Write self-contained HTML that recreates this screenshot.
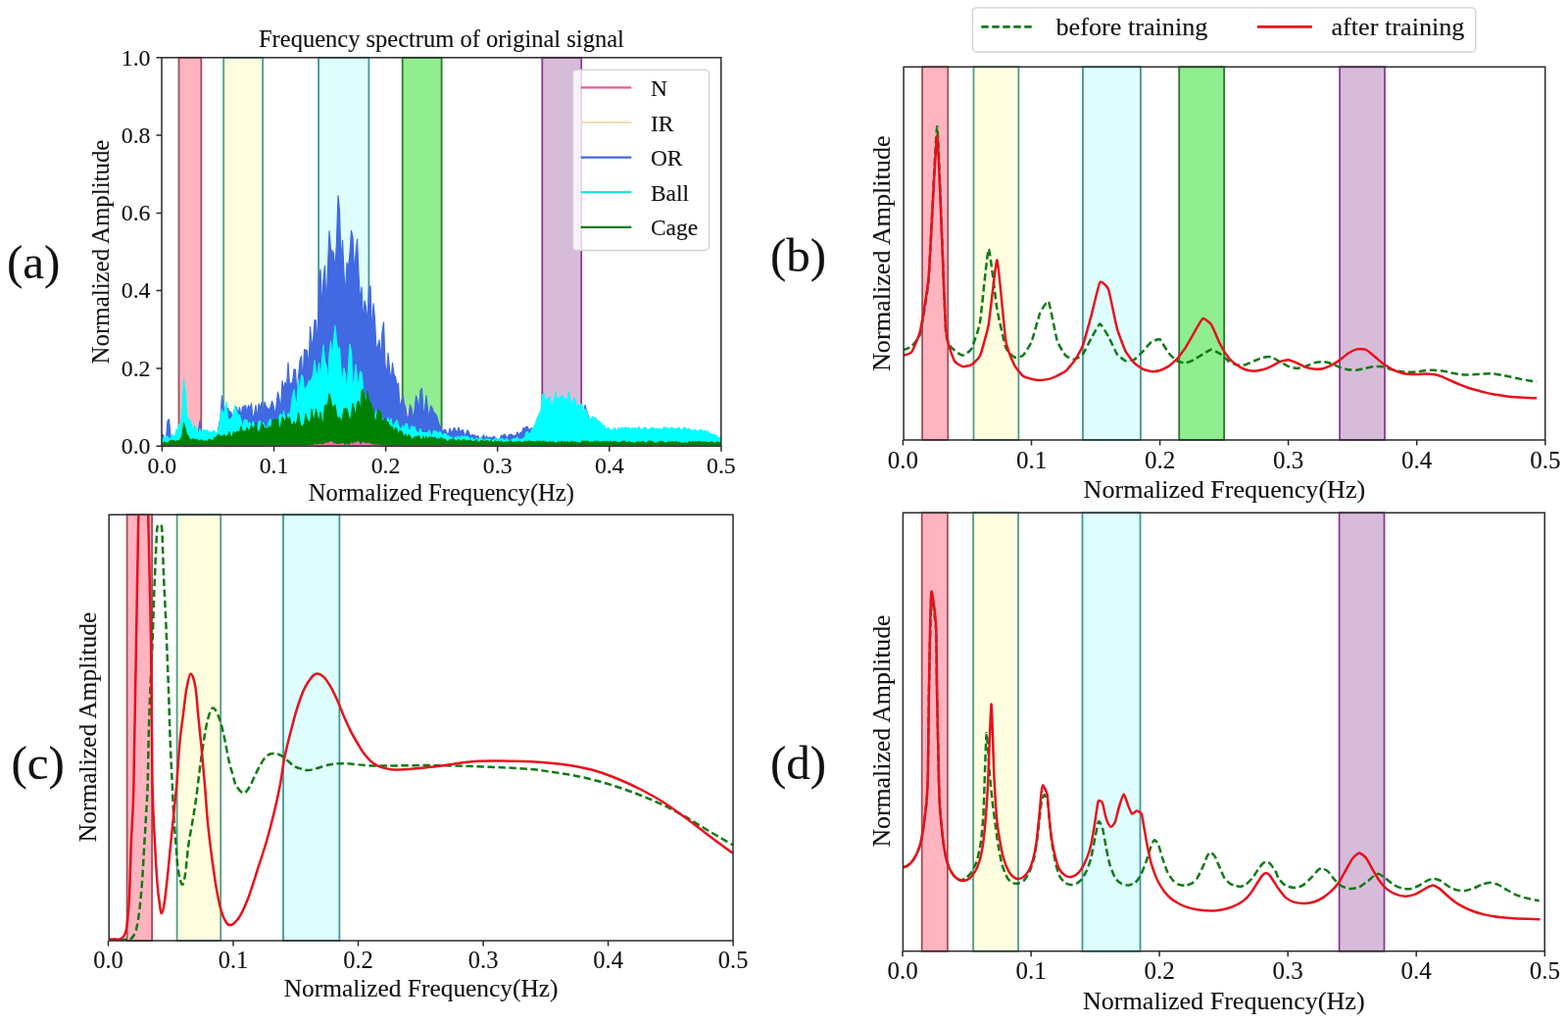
<!DOCTYPE html>
<html lang="en"><head><meta charset="utf-8"><title>Frequency spectrum before and after training</title>
<style>html,body{margin:0;padding:0;background:#fff}body{width:1600px;height:1044px;overflow:hidden}svg{display:block}text{font-family:'Liberation Serif', 'DejaVu Serif', serif;fill:#111;stroke:#111;stroke-width:0.12px}</style>
</head><body>
<svg width="1600" height="1044" viewBox="0 0 1600 1044" role="img" aria-label="Frequency spectra before and after training">
<rect width="1600" height="1044" fill="#fff"/>
<g id="plot-a">
<clipPath id="clip-a"><rect x="165" y="58.8" width="570.8" height="396.4"/></clipPath>
<rect x="165" y="58.8" width="570.8" height="396.4" fill="#fff"/>
<rect x="182.5" y="58.8" width="22.8" height="396.4" fill="#ffb4c0" stroke="#a0505c" stroke-width="1.8"/>
<rect x="228.2" y="58.8" width="39.9" height="396.4" fill="#ffffe0" stroke="#4f9c8c" stroke-width="1.8"/>
<rect x="325.1" y="58.8" width="51.3" height="396.4" fill="#dffefe" stroke="#3f979b" stroke-width="1.8"/>
<rect x="410.7" y="58.8" width="39.9" height="396.4" fill="#90ee90" stroke="#2c7a2c" stroke-width="1.8"/>
<rect x="553.3" y="58.8" width="39.9" height="396.4" fill="#d7bcd9" stroke="#8c3a94" stroke-width="1.8"/>
<g clip-path="url(#clip-a)"><path d="M165 455.2L165 455.2L166.5 455.2L168 455.2L169.5 455.2L171 455.2L172.5 455.2L174 455.2L175.5 455.2L177 455.2L178.5 455.2L180 455.2L181.5 455.2L183 455.2L184.5 455.2L186 455.2L187.5 455.2L189 455.2L190.5 455.2L192 455.2L193.5 455.2L195 455.2L196.5 455.2L198 455.2L199.5 455.2L201 455.2L202.5 455.2L204 455.2L205.5 455.2L207 455.2L208.5 455.2L210 455.2L211.5 455.2L213 455.2L214.5 455.2L216 455.2L217.5 455.2L219 455.2L220.5 455.2L222 455.2L223.5 455.2L225 455.2L226.5 455.2L228 455.2L229.5 455.2L231 455.2L232.5 455.2L234 455.2L235.5 455.2L237 455.2L238.5 455.2L240 455.2L241.5 455.2L243 455.2L244.5 455.2L246 455.2L247.5 455.2L249 455.2L250.5 455.2L252 455.2L253.5 455.2L255 455.2L256.5 455.2L258 455.2L259.5 455.2L261 455.2L262.5 455.2L264 455.2L265.5 455.2L267 455.2L268.5 455.2L270 455.2L271.5 455.2L273 455.2L274.5 455.2L276 455.2L277.5 455.2L279 455.2L280.5 455.2L282 455.2L283.5 455.2L285 455.2L286.5 455.2L288 455.2L289.5 455.2L291 455.2L292.5 455.2L294 455.2L295.5 455.2L297 455.2L298.5 455.2L300 455.2L301.5 455.2L303 455.2L304.5 455.2L306 455.2L307.5 455.2L309 455.2L310.5 455.2L312 455.2L313.5 455.2L315 455.2L316.5 455.2L318 455.2L319.5 455.2L321 455.2L322.5 455.2L324 455.2L325.5 455.2L327 455.2L328.5 455.2L330 455.2L331.5 455.2L333 455.2L334.5 455.2L336 455.2L337.5 455.2L339 455.2L340.5 455.2L342 455.2L343.5 455.2L345 455.2L346.5 455.2L348 455.2L349.5 455.2L351 455.2L352.5 455.2L354 455.2L355.5 455.2L357 455.2L358.5 455.2L360 455.2L361.5 455.2L363 455.2L364.5 455.2L366 455.2L367.5 455.2L369 455.2L370.5 455.2L372 455.2L373.5 455.2L375 455.2L376.5 455.2L378 455.2L379.5 455.2L381 455.2L382.5 452.3L384 445.1L385.5 438.9L387 432.6L388.5 423.8L390 427.4L391.5 411.3L393 420.2L394.5 409.5L396 395.2L397.5 395.7L399 411.1L400.5 379.1L402 395.1L403.5 400.2L405 426.3L406.5 405.5L408 419.7L409.5 406.9L411 417.3L412.5 409.3L414 417.9L415.5 415.9L417 429.6L418.5 424.2L420 425.8L421.5 428L423 439.5L424.5 436L426 439.8L427.5 445.4L429 443.5L430.5 443.7L432 446.9L433.5 446.8L435 449.4L436.5 444.8L438 444.1L439.5 447.4L441 445.9L442.5 445.8L444 445.8L445.5 449.6L447 445.5L448.5 446.9L450 446.4L451.5 448L453 446.8L454.5 445.8L456 446.8L457.5 446.3L459 450.8L460.5 449.9L462 448.2L463.5 446.9L465 449.6L466.5 446.8L468 447.2L469.5 450.8L471 448.2L472.5 449.8L474 450.8L475.5 450.4L477 449.3L478.5 450.1L480 450.1L481.5 451.1L483 448.6L484.5 449.1L486 447.8L487.5 448L489 450L490.5 446.3L492 451.4L493.5 449.2L495 449.9L496.5 449.2L498 450.9L499.5 447L501 449.5L502.5 451.4L504 448.3L505.5 451.1L507 448.8L508.5 449.9L510 448.7L511.5 446.8L513 447.5L514.5 449.6L516 447.7L517.5 448.6L519 450L520.5 451.2L522 449L523.5 449.2L525 447.3L526.5 447.3L528 449.1L529.5 450.3L531 447.8L532.5 452.1L534 451.6L535.5 449.5L537 449.3L538.5 451.5L540 449.3L541.5 448.2L543 450.5L544.5 450.3L546 451.3L547.5 451L549 448.1L550.5 450.7L552 448.3L553.5 448.5L555 449.9L556.5 451.4L558 448.4L559.5 450.5L561 450.8L562.5 451.2L564 448.6L565.5 450.6L567 451.5L568.5 450.8L570 452.2L571.5 450.3L573 451L574.5 451.6L576 449.8L577.5 449.7L579 452.7L580.5 450.9L582 451.9L583.5 449.6L585 450.1L586.5 452L588 452L589.5 452.4L591 449.7L592.5 452L594 451L595.5 451.5L597 451L598.5 451.2L600 450.8L601.5 452.8L603 450.8L604.5 452.3L606 451.6L607.5 452.2L609 452.4L610.5 451.7L612 452L613.5 452.3L615 451.3L616.5 451.7L618 453.3L619.5 452.7L621 452.2L622.5 451L624 451.2L625.5 452.1L627 453.5L628.5 451.6L630 452.5L631.5 452.2L633 451.9L634.5 452.2L636 452.5L637.5 451.6L639 452.8L640.5 452.9L642 451.9L643.5 453.4L645 453.2L646.5 452.1L648 453.7L649.5 452.2L651 452.5L652.5 453.1L654 453.4L655.5 452.5L657 452.3L658.5 453.8L660 453.2L661.5 453.1L663 453.2L664.5 453.6L666 453.9L667.5 453.2L669 452.9L670.5 454.1L672 453.9L673.5 453.1L675 453.1L676.5 453.4L678 454.3L679.5 453.4L681 453.1L682.5 453.1L684 453.6L685.5 454.4L687 453.5L688.5 454.2L690 453.8L691.5 453.5L693 453.8L694.5 454.4L696 454.3L697.5 453.8L699 454.5L700.5 454.2L702 454.4L703.5 454.6L705 454.3L706.5 454.7L708 454.7L709.5 454.6L711 454.8L712.5 454.8L714 454.6L715.5 454.5L717 454.5L718.5 454.9L720 454.8L721.5 454.9L723 454.8L724.5 454.9L726 454.8L727.5 455L729 455.1L730.5 455L732 455.1L733.5 455.1L735 455.2L735.8 455.2Z" fill="#f3dcae" stroke="#f3dcae" stroke-width="1.2" stroke-linejoin="round"/><path d="M165 455.2L165 443.5L166.5 443.6L168 448.4L169.5 448.2L171 429.7L172.5 427.9L174 445.1L175.5 447L177 445.4L178.5 445.4L180 445.5L181.5 447.8L183 446.4L184.5 446.6L186 444.8L187.5 443.3L189 443.6L190.5 445.7L192 446.3L193.5 447.2L195 448.5L196.5 448.5L198 446.2L199.5 446.9L201 446.5L202.5 438.8L204 429.6L205.5 444.7L207 447L208.5 448.1L210 446.3L211.5 447.3L213 445L214.5 442L216 443.8L217.5 446.7L219 442.2L220.5 442.7L222 443L223.5 433.2L225 426.2L226.5 403.9L228 419.9L229.5 417.9L231 417.2L232.5 416.5L234 419.9L235.5 420.3L237 424.7L238.5 423.3L240 423.8L241.5 415.6L243 423.2L244.5 415.7L246 425.5L247.5 415.3L249 414.8L250.5 413.7L252 420.7L253.5 413.6L255 417.2L256.5 411.8L258 426.7L259.5 423.2L261 413.6L262.5 426.1L264 412.1L265.5 416.8L267 410.5L268.5 423.7L270 410.1L271.5 415.1L273 416.4L274.5 418.6L276 415.6L277.5 409.3L279 413.5L280.5 423.1L282 414.2L283.5 400.1L285 407.3L286.5 419.1L288 388.6L289.5 397.8L291 390L292.5 396.3L294 370L295.5 394.9L297 390.8L298.5 391L300 376.8L301.5 377.3L303 404L304.5 385.1L306 368.3L307.5 363.4L309 390.5L310.5 356.9L312 356.9L313.5 358.2L315 376.9L316.5 333.7L318 349.3L319.5 349.3L321 326.5L322.5 327.1L324 357.3L325.5 285.3L327 275.2L328.5 314.4L330 284.7L331.5 271L333 315.4L334.5 273.2L336 235.9L337.5 254.7L339 256L340.5 258.3L342 276.8L343.5 246L345 199.5L346.5 214.9L348 269.1L349.5 245.3L351 279.2L352.5 300.2L354 268.1L355.5 273.2L357 258.2L358.5 235.3L360 241.9L361.5 278.8L363 259.6L364.5 244.1L366 280L367.5 308.6L369 293.2L370.5 328.5L372 307L373.5 313.7L375 329.9L376.5 294.6L378 291.7L379.5 342.5L381 309.9L382.5 325.9L384 357.7L385.5 353L387 346.9L388.5 367.8L390 338.5L391.5 328.8L393 372L394.5 383.6L396 360.3L397.5 376.4L399 390.3L400.5 370.4L402 382.4L403.5 384.6L405 393.7L406.5 391L408 416.2L409.5 410.3L411 403.7L412.5 411.9L414 416.7L415.5 427.9L417 425L418.5 413.1L420 416.9L421.5 428.6L423 419.1L424.5 403.9L426 408.5L427.5 418.7L429 398.3L430.5 396.5L432 422.4L433.5 417.5L435 403.7L436.5 419.1L438 425.7L439.5 414L441 416.5L442.5 420.6L444 422L445.5 423.9L447 429.6L448.5 434.3L450 435.4L451.5 441.9L453 438.8L454.5 438.4L456 442.2L457.5 443.5L459 437.2L460.5 441.1L462 439.9L463.5 436.4L465 439L466.5 442L468 436.1L469.5 441.4L471 439.3L472.5 438.8L474 444.1L475.5 442.8L477 439L478.5 440.8L480 446.2L481.5 443.5L483 444.2L484.5 444.2L486 446.4L487.5 444.5L489 447.9L490.5 447.1L492 446.7L493.5 443.8L495 448.4L496.5 444.9L498 447.9L499.5 445.9L501 446.9L502.5 446.6L504 445.2L505.5 447.1L507 448.5L508.5 448.4L510 448.5L511.5 444.2L513 445.1L514.5 443.2L516 444.4L517.5 448.1L519 444.2L520.5 443.3L522 443.4L523.5 444.6L525 445.2L526.5 444L528 441L529.5 444.2L531 441.7L532.5 441.4L534 436.8L535.5 437.4L537 435.5L538.5 435.6L540 440.2L541.5 437.4L543 437.1L544.5 439L546 436.6L547.5 433.1L549 429.9L550.5 433.4L552 430.1L553.5 438.7L555 435.2L556.5 426.8L558 437.5L559.5 433.8L561 438.2L562.5 437.7L564 426.6L565.5 425.1L567 429.5L568.5 436.4L570 433.9L571.5 434.6L573 428.1L574.5 427.7L576 431L577.5 429.5L579 435.4L580.5 428.8L582 422.3L583.5 425L585 434.9L586.5 428.2L588 424.8L589.5 431.8L591 421.4L592.5 427.2L594 420.2L595.5 423.4L597 413.4L598.5 418.9L600 424L601.5 432.5L603 428.7L604.5 431L606 427.8L607.5 426.8L609 437.4L610.5 434.7L612 436.5L613.5 438.6L615 436.9L616.5 436.3L618 439.7L619.5 442.8L621 440.9L622.5 445.5L624 443L625.5 443.6L627 443.1L628.5 442.6L630 446.4L631.5 444.1L633 445.5L634.5 444L636 442.2L637.5 444.3L639 448L640.5 445.4L642 444L643.5 443.1L645 444.5L646.5 443.7L648 448.2L649.5 443.1L651 444.4L652.5 445.1L654 443.5L655.5 443.7L657 448L658.5 444.2L660 444.6L661.5 447.7L663 444.8L664.5 445.7L666 447.8L667.5 444.7L669 448.2L670.5 445.8L672 446.8L673.5 447.8L675 446.3L676.5 446.8L678 448.2L679.5 444.5L681 448.9L682.5 449.3L684 447L685.5 445.4L687 446.3L688.5 446L690 447.3L691.5 446.5L693 448.1L694.5 448.4L696 447.4L697.5 449.6L699 449.4L700.5 446.5L702 449.1L703.5 446.7L705 446.6L706.5 448.3L708 447.2L709.5 446.8L711 446.5L712.5 449.6L714 449.6L715.5 448.7L717 448.4L718.5 449.2L720 450.3L721.5 448.3L723 446.7L724.5 449.1L726 448.5L727.5 449.2L729 449L730.5 447.5L732 449.6L733.5 448.4L735 449.1L735.8 455.2Z" fill="#4169e1" stroke="#4169e1" stroke-width="1.2" stroke-linejoin="round"/><path d="M165 455.2L165 448.3L166.5 446.7L168 447.1L169.5 445.8L171 445.3L172.5 447.6L174 447.6L175.5 443.1L177 445.8L178.5 445.6L180 438.2L181.5 438.9L183 432.5L184.5 432.9L186 417.3L187.5 386.8L189 398.1L190.5 421L192 428.4L193.5 428.1L195 431.4L196.5 439.4L198 433.6L199.5 436.3L201 439.9L202.5 443L204 437.5L205.5 441.2L207 439.6L208.5 438.7L210 440L211.5 438.8L213 442.5L214.5 440L216 442.5L217.5 439.5L219 440L220.5 443.8L222 440.8L223.5 437.2L225 425.3L226.5 417.6L228 424.5L229.5 417.9L231 410.4L232.5 427.2L234 428.9L235.5 426.9L237 426.2L238.5 420.5L240 413.9L241.5 420.2L243 423.3L244.5 423.7L246 429.6L247.5 436.8L249 429.2L250.5 428.2L252 429L253.5 432.7L255 431.3L256.5 436.8L258 430.3L259.5 433.2L261 436.3L262.5 438.8L264 430.6L265.5 429.3L267 438.8L268.5 431.2L270 434.9L271.5 437.3L273 435.4L274.5 429.7L276 428L277.5 437.2L279 430.1L280.5 436.5L282 427.9L283.5 432.3L285 424.9L286.5 422.3L288 427.6L289.5 419.5L291 428.4L292.5 431L294 421.9L295.5 425.3L297 415.9L298.5 404.1L300 397.5L301.5 409.3L303 411.8L304.5 387.7L306 402.8L307.5 383.2L309 384.3L310.5 399.1L312 396L313.5 393.6L315 389.2L316.5 388.8L318 387.1L319.5 382.2L321 367.7L322.5 380.5L324 382.4L325.5 370.5L327 388.1L328.5 367.3L330 352.1L331.5 368.6L333 373.3L334.5 394.5L336 362.4L337.5 348.3L339 366.9L340.5 346.2L342 332.3L343.5 348.8L345 358.5L346.5 354.5L348 378.5L349.5 390.5L351 376L352.5 382.5L354 403.2L355.5 373.6L357 351L358.5 359L360 394.6L361.5 388.1L363 372L364.5 386.3L366 396.4L367.5 379.1L369 380.2L370.5 395.1L372 406.2L373.5 406.8L375 400.6L376.5 421.4L378 413.3L379.5 414.1L381 423.7L382.5 426.7L384 419.2L385.5 429.6L387 431.8L388.5 429.4L390 426.3L391.5 434.5L393 432L394.5 432.2L396 426.5L397.5 431.7L399 427.2L400.5 435.7L402 434.1L403.5 431L405 428.8L406.5 434L408 436.8L409.5 438.3L411 434.4L412.5 438.3L414 432.6L415.5 432.7L417 439.4L418.5 438.9L420 434.5L421.5 436.4L423 435.5L424.5 439.8L426 441.9L427.5 441L429 437.5L430.5 441.9L432 441.7L433.5 441.6L435 441.8L436.5 442.1L438 438.9L439.5 444.2L441 445.4L442.5 439.6L444 440.3L445.5 440L447 443.6L448.5 440.8L450 441.3L451.5 445.5L453 442.9L454.5 442.7L456 443.9L457.5 444.9L459 446.3L460.5 446.2L462 447L463.5 447.9L465 445.6L466.5 447.1L468 444.9L469.5 448.4L471 444.8L472.5 445.9L474 445L475.5 445.3L477 445.5L478.5 446.9L480 449.3L481.5 446.6L483 448.9L484.5 448.5L486 447.3L487.5 448L489 448.5L490.5 446.8L492 448.1L493.5 449.1L495 449.6L496.5 447.7L498 448.9L499.5 448L501 449.3L502.5 449.8L504 448.7L505.5 447.9L507 449.9L508.5 447.9L510 447.5L511.5 447.9L513 447.8L514.5 450.4L516 448.4L517.5 447.7L519 450.3L520.5 449.3L522 449.1L523.5 447.9L525 448L526.5 447.6L528 446.1L529.5 449L531 448.5L532.5 448L534 447.3L535.5 446.9L537 441L538.5 440.6L540 444.7L541.5 441L543 438.4L544.5 435.9L546 433.2L547.5 428.4L549 425.3L550.5 421.8L552 418.4L553.5 402.7L555 402.2L556.5 409.5L558 407.2L559.5 407.9L561 404.4L562.5 414.2L564 411.5L565.5 408.3L567 399.8L568.5 411.2L570 405.4L571.5 407.8L573 403.7L574.5 404.4L576 409.3L577.5 406.3L579 410.2L580.5 399.7L582 409.4L583.5 412.4L585 408.3L586.5 406L588 415.4L589.5 412.8L591 415L592.5 412L594 413.9L595.5 421.4L597 417.3L598.5 419.8L600 426.2L601.5 425.6L603 429.6L604.5 424.8L606 427.1L607.5 426.4L609 428.3L610.5 429.5L612 430.3L613.5 432.1L615 435.1L616.5 434.1L618 437.4L619.5 437.8L621 436.5L622.5 439.4L624 439.2L625.5 439.2L627 436.5L628.5 438.9L630 439.4L631.5 436.5L633 439L634.5 436.5L636 437.1L637.5 436.5L639 436L640.5 437.3L642 436.5L643.5 439.2L645 436.6L646.5 437.5L648 436.7L649.5 438.8L651 436.5L652.5 435.9L654 438.9L655.5 438L657 437.1L658.5 436.1L660 438.2L661.5 438.4L663 438.1L664.5 436.8L666 436.3L667.5 437.5L669 437.7L670.5 437.6L672 437.8L673.5 437.6L675 438.8L676.5 437.4L678 435.7L679.5 437.7L681 436.6L682.5 438.7L684 436.8L685.5 436.7L687 437L688.5 437.6L690 437.7L691.5 437.2L693 436.3L694.5 438.9L696 439.2L697.5 436.9L699 436.4L700.5 437.8L702 438.1L703.5 437.4L705 439.4L706.5 439.3L708 439.7L709.5 438.6L711 439.7L712.5 440.1L714 438.9L715.5 438.3L717 440.5L718.5 439.4L720 440.7L721.5 439.9L723 441.2L724.5 442.5L726 443.1L727.5 444L729 443.4L730.5 444.2L732 445.8L733.5 446.5L735 447.7L735.8 455.2Z" fill="#00ffff" stroke="#00ffff" stroke-width="1.2" stroke-linejoin="round"/><path d="M165 455.2L165 452.1L166.5 452.2L168 451.4L169.5 451.9L171 452L172.5 451L174 449.4L175.5 449.5L177 449.5L178.5 450.9L180 449.8L181.5 450.4L183 449.6L184.5 448.1L186 444.6L187.5 431.8L189 436.6L190.5 443.1L192 444.8L193.5 448.5L195 448.5L196.5 447.9L198 448.3L199.5 448.5L201 448.4L202.5 451L204 449.3L205.5 449.1L207 449.7L208.5 450.7L210 449.8L211.5 451L213 448.3L214.5 448.5L216 449.5L217.5 449.7L219 446.3L220.5 446.7L222 444L223.5 443.7L225 445.1L226.5 445.3L228 443.8L229.5 444.4L231 445.9L232.5 444.5L234 440.5L235.5 445.8L237 445.5L238.5 440.6L240 443L241.5 440.5L243 440.6L244.5 441.3L246 435L247.5 442L249 439.6L250.5 441.2L252 436.6L253.5 439.8L255 438.6L256.5 434.1L258 438.5L259.5 435.7L261 431.7L262.5 440.4L264 440.7L265.5 438.6L267 432.3L268.5 433.8L270 438L271.5 436.7L273 438.4L274.5 434.8L276 439.7L277.5 431.5L279 428.8L280.5 427.7L282 430.1L283.5 426.8L285 438.9L286.5 435L288 425.6L289.5 427.8L291 432.5L292.5 424.8L294 429L295.5 425.8L297 433.1L298.5 434.3L300 430.3L301.5 434.7L303 430.7L304.5 421.4L306 430.9L307.5 435.7L309 434.9L310.5 432.7L312 422.4L313.5 429L315 430L316.5 433L318 417.6L319.5 426.9L321 427.3L322.5 417.5L324 426L325.5 430.2L327 420.7L328.5 429.9L330 431.6L331.5 413.8L333 413.9L334.5 412.2L336 401.9L337.5 407.9L339 416.9L340.5 414.7L342 413.2L343.5 423.8L345 428.5L346.5 425.8L348 432.7L349.5 425.6L351 417.4L352.5 416.7L354 417.6L355.5 423.4L357 431.9L358.5 423.6L360 411.8L361.5 418.1L363 426.2L364.5 410.9L366 409.5L367.5 421.5L369 399.4L370.5 397.2L372 405.9L373.5 410.6L375 399.7L376.5 409.1L378 411.1L379.5 413.8L381 420.6L382.5 429.8L384 428.7L385.5 418.2L387 419.5L388.5 420.8L390 431.5L391.5 428.2L393 427.8L394.5 431.3L396 430.5L397.5 435.2L399 435.1L400.5 436.1L402 441.3L403.5 436.7L405 437.8L406.5 445.3L408 439.3L409.5 440.1L411 442.8L412.5 447.3L414 442.8L415.5 447.8L417 443.5L418.5 445.3L420 448.5L421.5 448.1L423 445.8L424.5 446.2L426 445.4L427.5 444.6L429 448.2L430.5 449.3L432 445.1L433.5 449.4L435 445.5L436.5 449.1L438 446.1L439.5 446.3L441 446L442.5 447.5L444 446.2L445.5 449.2L447 447.3L448.5 448.9L450 446.7L451.5 447.3L453 448.6L454.5 448.5L456 450.5L457.5 450.5L459 448.5L460.5 449L462 447.8L463.5 448.7L465 450.4L466.5 449.7L468 448.4L469.5 449.3L471 451.1L472.5 448.4L474 448.5L475.5 451L477 449.5L478.5 450.1L480 448.9L481.5 450.4L483 450.7L484.5 450L486 448.6L487.5 451.3L489 451.3L490.5 449.9L492 449.2L493.5 450.3L495 450.6L496.5 449.5L498 449.8L499.5 451.7L501 449.6L502.5 451.5L504 451.3L505.5 450L507 451.1L508.5 450.2L510 451.7L511.5 450L513 451.7L514.5 451.8L516 450.9L517.5 451.3L519 450.8L520.5 449.9L522 450.4L523.5 452.2L525 451.4L526.5 450.8L528 451L529.5 450.4L531 451L532.5 452L534 451.6L535.5 450.1L537 451.3L538.5 450.3L540 449.8L541.5 450.7L543 450.6L544.5 450.7L546 451.5L547.5 450L549 451.1L550.5 450L552 451.5L553.5 450.1L555 450.3L556.5 450.8L558 451.2L559.5 451.9L561 450.4L562.5 451.4L564 450.7L565.5 451.9L567 452.1L568.5 451.9L570 450.3L571.5 451.8L573 450.1L574.5 451.4L576 450.9L577.5 451.4L579 450.8L580.5 452.1L582 451.3L583.5 450.1L585 451.9L586.5 450.7L588 451.5L589.5 451.6L591 452.3L592.5 452.3L594 450.1L595.5 450.4L597 450.4L598.5 450.4L600 450.1L601.5 452L603 451L604.5 451.2L606 451L607.5 450.1L609 450.6L610.5 450.1L612 452.1L613.5 450.8L615 450.8L616.5 450.6L618 450.9L619.5 450.4L621 451.7L622.5 450.2L624 451.4L625.5 451L627 450.3L628.5 450.8L630 451.7L631.5 451.9L633 451.6L634.5 450.9L636 450.1L637.5 450.3L639 451.5L640.5 451.5L642 450.5L643.5 451.8L645 451.5L646.5 452.4L648 452L649.5 451.2L651 450.8L652.5 451L654 451.6L655.5 450.3L657 451L658.5 452.1L660 452.3L661.5 450.2L663 450.2L664.5 450.4L666 451.1L667.5 451.8L669 452.3L670.5 451.9L672 452L673.5 450.4L675 450.5L676.5 450.7L678 452.1L679.5 451.9L681 451.8L682.5 450.4L684 452.1L685.5 450.7L687 451L688.5 451.3L690 450.4L691.5 451.9L693 451.3L694.5 452.2L696 452.3L697.5 452.4L699 451.8L700.5 452.2L702 452.4L703.5 450.3L705 451.9L706.5 450.6L708 451L709.5 450.9L711 451.1L712.5 450.5L714 450.6L715.5 451L717 451.3L718.5 451L720 451L721.5 451.4L723 451.5L724.5 452.2L726 450.7L727.5 451.5L729 452.4L730.5 452.2L732 450.7L733.5 452L735 451.7L735.8 455.2Z" fill="#008000" stroke="#008000" stroke-width="1.2" stroke-linejoin="round"/><path d="M165 455.2L165 455.2L166.5 455.2L168 455.2L169.5 455.2L171 455.2L172.5 455.2L174 455.2L175.5 455.2L177 455.2L178.5 455.2L180 455.2L181.5 455.2L183 455.2L184.5 455.2L186 455.2L187.5 455.2L189 455.2L190.5 455.2L192 455.2L193.5 455.2L195 455.2L196.5 455.2L198 455.2L199.5 455.2L201 455.2L202.5 455.2L204 455.2L205.5 455.2L207 455.2L208.5 455.2L210 455.2L211.5 455.2L213 455.2L214.5 455.2L216 455.2L217.5 455.2L219 455.2L220.5 455.2L222 455.2L223.5 455.2L225 455.2L226.5 455.2L228 455.2L229.5 455.2L231 455.2L232.5 455.2L234 455.2L235.5 455.2L237 455.2L238.5 455.2L240 455.2L241.5 455.2L243 455.2L244.5 455.2L246 455.2L247.5 455.2L249 455.2L250.5 455.2L252 455.2L253.5 455.2L255 455.2L256.5 455.2L258 455.2L259.5 455.2L261 455.2L262.5 455.2L264 455.2L265.5 455.2L267 455.2L268.5 455.2L270 455.2L271.5 455.2L273 455.2L274.5 455.2L276 455.2L277.5 455.2L279 455.2L280.5 455.2L282 455.2L283.5 455.2L285 455.2L286.5 455.2L288 455.2L289.5 455.2L291 455.2L292.5 455.2L294 455.2L295.5 455.2L297 455.2L298.5 455.2L300 455.2L301.5 455.2L303 455.2L304.5 455.2L306 455.2L307.5 455.2L309 455.2L310.5 455.2L312 455.2L313.5 455.2L315 455L316.5 454.6L318 454.8L319.5 454.5L321 453.8L322.5 453.9L324 454.3L325.5 453.7L327 453.5L328.5 454.2L330 453.5L331.5 453.5L333 451.8L334.5 453.2L336 451.8L337.5 450.8L339 451.3L340.5 453.3L342 452.8L343.5 453.7L345 453.7L346.5 453.7L348 453.2L349.5 452.7L351 454L352.5 454.6L354 453.4L355.5 454.3L357 454.4L358.5 452L360 454L361.5 451.9L363 453L364.5 450.7L366 451.2L367.5 454.1L369 453.7L370.5 451.4L372 452.6L373.5 453.3L375 452.4L376.5 452.5L378 453.5L379.5 453.6L381 454.5L382.5 454.1L384 454.6L385.5 454.1L387 454.3L388.5 454.9L390 454.7L391.5 455.1L393 455.2L394.5 455.2L396 455.2L397.5 455.2L399 455.2L400.5 455.2L402 455.2L403.5 455.2L405 455.2L406.5 455.2L408 455.2L409.5 455.2L411 455.2L412.5 455.2L414 455.2L415.5 455.2L417 455.2L418.5 455.2L420 455.2L421.5 455.2L423 455.2L424.5 455.2L426 455.2L427.5 455.2L429 455.2L430.5 455.2L432 455.2L433.5 455.2L435 455.2L436.5 455.2L438 455.2L439.5 455.2L441 455.2L442.5 455.2L444 455.2L445.5 455.2L447 455.2L448.5 455.2L450 455.2L451.5 455.2L453 455.2L454.5 455.2L456 455.2L457.5 455.2L459 455.2L460.5 455.2L462 455.2L463.5 455.2L465 455.2L466.5 455.2L468 455.2L469.5 455.2L471 455.2L472.5 455.2L474 455.2L475.5 455.2L477 455.2L478.5 455.2L480 455.2L481.5 455.2L483 455.2L484.5 455.2L486 455.2L487.5 455.2L489 455.2L490.5 455.2L492 455.2L493.5 455.2L495 455.2L496.5 455.2L498 455.2L499.5 455.2L501 455.2L502.5 455.2L504 455.2L505.5 455.2L507 455.2L508.5 455.2L510 455.2L511.5 455.2L513 455.2L514.5 455.2L516 455.2L517.5 455.2L519 455.2L520.5 455.2L522 455.2L523.5 455.2L525 455.2L526.5 455.2L528 455.2L529.5 455.2L531 455.2L532.5 455.2L534 455.2L535.5 455.2L537 455.2L538.5 455.2L540 455.2L541.5 455.2L543 455.2L544.5 455.2L546 455.2L547.5 455.2L549 455.2L550.5 455.2L552 455.2L553.5 455.2L555 455.2L556.5 455.2L558 455.2L559.5 455.2L561 455.2L562.5 455.2L564 455.2L565.5 455.2L567 455.2L568.5 455.2L570 455.2L571.5 455.2L573 455.2L574.5 455.2L576 455.2L577.5 455.2L579 455.2L580.5 455.2L582 455.2L583.5 455.2L585 455.2L586.5 455.2L588 455.2L589.5 455.2L591 455.2L592.5 455.2L594 455.2L595.5 455.2L597 455.2L598.5 455.2L600 455.2L601.5 455.2L603 455.2L604.5 455.2L606 455.2L607.5 455.2L609 455.2L610.5 455.2L612 455.2L613.5 455.2L615 455.2L616.5 455.2L618 455.2L619.5 455.2L621 455.2L622.5 455.2L624 455.2L625.5 455.2L627 455.2L628.5 455.2L630 455.2L631.5 455.2L633 455.2L634.5 455.2L636 455.2L637.5 455.2L639 455.2L640.5 455.2L642 455.2L643.5 455.2L645 455.2L646.5 455.2L648 455.2L649.5 455.2L651 455.2L652.5 455.2L654 455.2L655.5 455.2L657 455.2L658.5 455.2L660 455.2L661.5 455.2L663 455.2L664.5 455.2L666 455.2L667.5 455.2L669 455.2L670.5 455.2L672 455.2L673.5 455.2L675 455.2L676.5 455.2L678 455.2L679.5 455.2L681 455.2L682.5 455.2L684 455.2L685.5 455.2L687 455.2L688.5 455.2L690 455.2L691.5 455.2L693 455.2L694.5 455.2L696 455.2L697.5 455.2L699 455.2L700.5 455.2L702 455.2L703.5 455.2L705 455.2L706.5 455.2L708 455.2L709.5 455.2L711 455.2L712.5 455.2L714 455.2L715.5 455.2L717 455.2L718.5 455.2L720 455.2L721.5 455.2L723 455.2L724.5 455.2L726 455.2L727.5 455.2L729 455.2L730.5 455.2L732 455.2L733.5 455.2L735 455.2L735.8 455.2Z" fill="#ff69b4" stroke="#ff69b4" stroke-width="1.2" stroke-linejoin="round"/></g>
<rect x="165" y="58.8" width="570.8" height="396.4" fill="none" stroke="#2a2a2a" stroke-width="1.5"/>
<path d="M165.4 455.2v5.5M279.5 455.2v5.5M393.6 455.2v5.5M507.7 455.2v5.5M621.8 455.2v5.5M735.9 455.2v5.5M165 455.2h-5.5M165 375.9h-5.5M165 296.6h-5.5M165 217.4h-5.5M165 138.1h-5.5M165 58.8h-5.5" stroke="#2a2a2a" stroke-width="1.5" fill="none"/>
<g font-size="23.8" text-anchor="middle">
<text x="165.4" y="482.5">0.0</text>
<text x="279.5" y="482.5">0.1</text>
<text x="393.6" y="482.5">0.2</text>
<text x="507.7" y="482.5">0.3</text>
<text x="621.8" y="482.5">0.4</text>
<text x="735.9" y="482.5">0.5</text>
</g>
<g font-size="23.8" text-anchor="end">
<text x="153.5" y="462.9">0.0</text>
<text x="153.5" y="383.6">0.2</text>
<text x="153.5" y="304.3">0.4</text>
<text x="153.5" y="225.1">0.6</text>
<text x="153.5" y="145.8">0.8</text>
<text x="153.5" y="66.5">1.0</text>
</g>
<text x="450.4" y="511.2" font-size="24.6" text-anchor="middle">Normalized Frequency(Hz)</text>
<text transform="translate(110.7 257) rotate(-90)" font-size="24.9" text-anchor="middle">Normalized Amplitude</text>
</g>
<text x="450.4" y="48.3" font-size="24.5" text-anchor="middle">Frequency spectrum of original signal</text>
<g id="legend-a">
<rect x="584.5" y="71.2" width="139" height="184.3" rx="4" ry="4" fill="#fff" fill-opacity="0.8" stroke="#d0d0d0" stroke-width="1.3"/>
<path d="M592.7 89.4H644.3" stroke="#e85d9a" stroke-width="2.2"/>
<text x="663.9" y="98" font-size="23.5">N</text>
<path d="M592.7 125H644.3" stroke="#f3dcae" stroke-width="2.2"/>
<text x="663.9" y="133.6" font-size="23.5">IR</text>
<path d="M592.7 160.6H644.3" stroke="#4169e1" stroke-width="2.2"/>
<text x="663.9" y="169.2" font-size="23.5">OR</text>
<path d="M592.7 196.2H644.3" stroke="#19e6e6" stroke-width="2.2"/>
<text x="663.9" y="204.8" font-size="23.5">Ball</text>
<path d="M592.7 231.8H644.3" stroke="#0f7a16" stroke-width="2.2"/>
<text x="663.9" y="240.4" font-size="23.5">Cage</text>
</g>
<text x="7" y="283.5" font-size="49">(a)</text>
<g id="plot-b">
<clipPath id="clip-b"><rect x="922.1" y="68.3" width="654.6" height="380.7"/></clipPath>
<rect x="922.1" y="68.3" width="654.6" height="380.7" fill="#fff"/>
<rect x="941.1" y="68.3" width="26.2" height="380.7" fill="#ffb4c0" stroke="#a0505c" stroke-width="1.8"/>
<rect x="993.5" y="68.3" width="45.9" height="380.7" fill="#ffffe0" stroke="#4f9c8c" stroke-width="1.8"/>
<rect x="1104.9" y="68.3" width="59" height="380.7" fill="#dffefe" stroke="#3f979b" stroke-width="1.8"/>
<rect x="1203.2" y="68.3" width="45.9" height="380.7" fill="#90ee90" stroke="#2c7a2c" stroke-width="1.8"/>
<rect x="1367.1" y="68.3" width="45.9" height="380.7" fill="#d7bcd9" stroke="#8c3a94" stroke-width="1.8"/>
<g clip-path="url(#clip-b)"><path d="M921.4 357.4C922 357.1 928.9 354.7 930.1 353.5C931.4 352.3 937.6 345.8 938.9 340.9C940.1 336 946.4 300.1 947.6 285C948.9 269.9 955.1 125.5 956.4 129.3C957.6 133.1 963.8 321.7 965.1 338C966.3 354.3 972.6 355.6 973.8 357.4C975.1 359.2 981.3 362.7 982.6 362.6C983.8 362.5 990.1 358.4 991.3 356C992.6 353.6 998.8 335.8 1000.1 328.5C1001.3 321.2 1007.5 255 1008.8 254.1C1010 253.2 1016.3 308.9 1017.5 316.1C1018.8 323.3 1025 351.1 1026.3 354.6C1027.5 358.1 1033.8 363.9 1035 364.5C1036.3 365.1 1042.5 364 1043.7 362.9C1045 361.8 1051.2 352.2 1052.5 349.1C1053.7 346 1060 322.5 1061.2 319.6C1062.5 316.7 1068.7 305.9 1070 307.9C1071.2 309.9 1077.5 343.8 1078.7 347.7C1080 351.6 1086.2 361.5 1087.4 362.9C1088.7 364.3 1094.9 366.8 1096.2 366.7C1097.4 366.6 1103.7 363.1 1104.9 361.5C1106.2 359.9 1112.4 347.2 1113.7 345C1114.9 342.8 1121.1 330.7 1122.4 330.6C1123.6 330.5 1129.9 341.4 1131.1 343.6C1132.4 345.8 1138.6 359.7 1139.9 361.5C1141.1 363.3 1147.4 368 1148.6 368.4C1149.9 368.8 1156.1 367.7 1157.4 367C1158.6 366.3 1164.8 360 1166.1 358.7C1167.3 357.4 1173.6 350 1174.8 349.1C1176.1 348.2 1182.3 345.6 1183.6 346.4C1184.8 347.2 1191.1 358.5 1192.3 360.1C1193.6 361.7 1199.8 367.7 1201 368.4C1202.3 369.1 1208.5 370.5 1209.8 370.4C1211 370.3 1217.3 367.6 1218.5 367C1219.8 366.4 1226 362.2 1227.3 361.5C1228.5 360.8 1234.8 356.8 1236 356.7C1237.3 356.6 1243.5 360 1244.7 360.8C1246 361.6 1252.2 367.6 1253.5 368.4C1254.7 369.2 1261 372.2 1262.2 372.5C1263.5 372.8 1269.7 372.5 1271 372.2C1272.2 371.9 1278.5 368.9 1279.7 368.4C1280.9 367.9 1287.2 365.2 1288.4 364.9C1289.7 364.6 1295.9 363.9 1297.2 364.2C1298.4 364.5 1304.7 368.4 1305.9 369.1C1307.2 369.8 1313.4 373.4 1314.7 373.9C1315.9 374.4 1322.1 375.9 1323.4 375.9C1324.6 375.9 1330.9 374.3 1332.1 373.9C1333.4 373.5 1339.6 370.7 1340.9 370.4C1342.1 370.1 1348.4 369.1 1349.6 369.1C1350.9 369.1 1357.1 370.6 1358.3 371C1359.6 371.4 1365.8 374.4 1367.1 374.9C1368.3 375.3 1374.6 377.1 1375.8 377.3C1377.1 377.5 1383.3 377.8 1384.6 377.7C1385.8 377.6 1392.1 376.1 1393.3 375.9C1394.6 375.6 1400.8 374.3 1402 374.2C1403.3 374.1 1409.5 374 1410.8 374.2C1412 374.4 1418.3 376.6 1419.5 377C1420.8 377.4 1427 378.9 1428.3 379.1C1429.5 379.3 1435.8 379.7 1437 379.7C1438.2 379.7 1444.5 379.4 1445.7 379.3C1447 379.2 1453.2 378.2 1454.5 378.1C1455.7 378 1462 377.7 1463.2 377.7C1464.5 377.7 1470.7 378.4 1472 378.6C1473.2 378.8 1479.4 380.1 1480.7 380.4C1481.9 380.6 1488.2 382 1489.4 382.1C1490.7 382.2 1496.9 382.5 1498.2 382.5C1499.4 382.5 1505.7 382.2 1506.9 382.1C1508.2 382 1514.4 381.4 1515.7 381.4C1516.9 381.3 1523.1 381.3 1524.4 381.4C1525.6 381.5 1531.9 382.7 1533.1 382.9C1534.4 383.1 1540.6 384.5 1541.9 384.8C1543.1 385.1 1549.4 386.4 1550.6 386.6C1551.9 386.9 1558.1 388.1 1559.3 388.3C1560.6 388.5 1567.5 389.5 1568.1 389.6" fill="none" stroke="#0f7a16" stroke-width="2.5" stroke-linejoin="round" stroke-dasharray="7.4 3.6"/><path d="M921.4 362.9C922 362.6 928.9 361.2 930.1 359.4C931.4 357.6 937.6 343.6 938.9 338.1C940.1 332.6 946.4 297.2 947.6 283C948.9 268.8 955.1 134.9 956.4 138.6C957.6 142.3 963.8 318.6 965.1 335C966.3 351.4 972.6 365.3 973.8 368.1C975.1 370.9 981.3 373.8 982.6 374.1C983.8 374.4 990.1 373 991.3 372.2C992.6 371.4 998.8 365.8 1000.1 362.9C1001.3 360 1007.5 338.2 1008.8 331.2C1010 324.2 1016.3 264.2 1017.5 265.4C1018.8 266.6 1025 340.1 1026.3 347.7C1027.5 355.3 1033.8 369.9 1035 372.5C1036.3 375.1 1042.5 382.5 1043.7 383.5C1045 384.5 1051.2 386.4 1052.5 386.7C1053.7 387 1060 387.9 1061.2 387.9C1062.5 387.9 1068.7 387.2 1070 386.9C1071.2 386.6 1077.5 384.1 1078.7 383.5C1080 382.9 1086.2 379.8 1087.4 378.7C1088.7 377.6 1094.9 370.3 1096.2 368.4C1097.4 366.5 1103.7 355.9 1104.9 352.6C1106.2 349.3 1112.4 326.2 1113.7 321.6C1114.9 317 1121.1 290 1122.4 288.1C1123.6 286.2 1129.9 292 1131.1 295.4C1132.4 298.8 1138.6 330.9 1139.9 335.4C1141.1 339.9 1147.4 356.2 1148.6 358.7C1149.9 361.2 1156.1 369.1 1157.4 370.4C1158.6 371.7 1164.8 376 1166.1 376.6C1167.3 377.2 1173.6 379 1174.8 379.1C1176.1 379.2 1182.3 378.4 1183.6 378C1184.8 377.6 1191.1 374.7 1192.3 373.9C1193.6 373.1 1199.8 367.7 1201 366.3C1202.3 364.9 1208.5 356.5 1209.8 354.6C1211 352.7 1217.3 341.6 1218.5 339.5C1219.8 337.4 1226 325.7 1227.3 325.1C1228.5 324.5 1234.8 329.4 1236 331.2C1237.3 333 1243.5 348.1 1244.7 350.5C1246 352.9 1252.2 363.3 1253.5 364.9C1254.7 366.5 1261 371.6 1262.2 372.5C1263.5 373.4 1269.7 376.9 1271 377.3C1272.2 377.7 1278.5 378.7 1279.7 378.7C1280.9 378.7 1287.2 377.6 1288.4 377.3C1289.7 377 1295.9 374.5 1297.2 373.9C1298.4 373.3 1304.7 369.6 1305.9 369.1C1307.2 368.6 1313.4 367.2 1314.7 367.3C1315.9 367.4 1322.1 369.9 1323.4 370.4C1324.6 370.9 1330.9 374.2 1332.1 374.6C1333.4 375 1339.6 376.5 1340.9 376.6C1342.1 376.7 1348.4 376.6 1349.6 376.3C1350.9 376 1357.1 373.5 1358.3 372.9C1359.6 372.3 1365.8 368.3 1367.1 367.4C1368.3 366.5 1374.6 361.3 1375.8 360.5C1377.1 359.7 1383.3 356.7 1384.6 356.4C1385.8 356.1 1392.1 356.1 1393.3 356.6C1394.6 357.1 1400.8 362.2 1402 363.2C1403.3 364.2 1409.5 369.9 1410.8 370.8C1412 371.7 1418.3 375.6 1419.5 376.3C1420.8 377 1427 379.6 1428.3 380C1429.5 380.4 1435.8 381.7 1437 381.8C1438.2 381.9 1444.5 382.1 1445.7 382.1C1447 382.1 1453.2 381.5 1454.5 381.5C1455.7 381.5 1462 381.9 1463.2 382.1C1464.5 382.3 1470.7 384.1 1472 384.6C1473.2 385.1 1479.4 388.1 1480.7 388.7C1481.9 389.3 1488.2 391.9 1489.4 392.4C1490.7 392.9 1496.9 395.4 1498.2 395.8C1499.4 396.2 1505.7 398 1506.9 398.3C1508.2 398.6 1514.4 400.3 1515.7 400.6C1516.9 400.9 1523.1 402.2 1524.4 402.4C1525.6 402.6 1531.9 403.6 1533.1 403.8C1534.4 404 1540.6 404.8 1541.9 404.9C1543.1 405 1549.4 405.5 1550.6 405.6C1551.9 405.7 1558.1 405.9 1559.3 406C1560.6 406.1 1567.5 406.3 1568.1 406.3" fill="none" stroke="#e8101c" stroke-width="2.5" stroke-linejoin="round"/></g>
<rect x="922.1" y="68.3" width="654.6" height="380.7" fill="none" stroke="#2a2a2a" stroke-width="1.5"/>
<path d="M921.4 449v5.5M1052.5 449v5.5M1183.6 449v5.5M1314.6 449v5.5M1445.7 449v5.5M1576.8 449v5.5" stroke="#2a2a2a" stroke-width="1.5" fill="none"/>
<g font-size="25" text-anchor="middle">
<text x="921.4" y="477.6">0.0</text>
<text x="1052.5" y="477.6">0.1</text>
<text x="1183.6" y="477.6">0.2</text>
<text x="1314.6" y="477.6">0.3</text>
<text x="1445.7" y="477.6">0.4</text>
<text x="1576.8" y="477.6">0.5</text>
</g>
<text x="1249.4" y="507.5" font-size="26.1" text-anchor="middle">Normalized Frequency(Hz)</text>
<text transform="translate(907.7 258.7) rotate(-90)" font-size="26.2" text-anchor="middle">Normalized Amplitude</text>
</g>
<g id="legend-b">
<rect x="992.5" y="7.8" width="513.3" height="45.2" rx="4" ry="4" fill="#fff" stroke="#d0d0d0" stroke-width="1.3"/>
<path d="M1001.3 27.4H1055.9" stroke="#0f7a16" stroke-width="2.6" stroke-dasharray="7.4 3.6"/>
<text x="1077.5" y="36.1" font-size="26.2">before training</text>
<path d="M1283 27.4H1338.8" stroke="#e8101c" stroke-width="2.6"/>
<text x="1358.5" y="36.1" font-size="26.2">after training</text>
</g>
<text x="786" y="277" font-size="49">(b)</text>
<g id="plot-c">
<clipPath id="clip-c"><rect x="111.2" y="525.3" width="636.8" height="434.7"/></clipPath>
<rect x="111.2" y="525.3" width="636.8" height="434.7" fill="#fff"/>
<rect x="129.6" y="525.3" width="25.5" height="434.7" fill="#ffb4c0" stroke="#a0505c" stroke-width="1.8"/>
<rect x="180.6" y="525.3" width="44.6" height="434.7" fill="#ffffe0" stroke="#4f9c8c" stroke-width="1.8"/>
<rect x="289" y="525.3" width="57.4" height="434.7" fill="#dffefe" stroke="#3f979b" stroke-width="1.8"/>
<g clip-path="url(#clip-c)"><path d="M110.8 959C113.6 959 123.7 959 127.5 958.8C131.3 958.6 131.9 959.4 133.7 958C135.5 956.6 137.2 954.2 138.5 950.2C139.8 946.2 140.5 942.2 141.6 934.3C142.7 926.4 143.9 914.6 144.8 902.7C145.7 890.9 146.5 875.1 147.2 863.2C147.9 851.4 148.5 842.1 149.1 831.6C149.7 821.1 150.2 814.9 150.7 800C151.2 785.1 151.3 761.2 151.9 742.5C152.5 723.8 153.4 701.2 154 687.5C154.6 673.8 154.8 674.2 155.4 660C156 645.8 156.7 620.1 157.4 602.5C158.1 584.9 159 564.8 159.5 554.4C160 544 159.9 543 160.2 540C160.5 537 160.6 536.9 161.3 536.3C162.1 535.7 164 534.2 164.7 536.3C165.4 538.4 165.3 540.3 165.7 549C166.1 557.7 166.5 575.2 167.1 588.7C167.7 602.2 168.5 617.6 169.1 630C169.7 642.4 169.9 651.1 170.4 663C170.9 674.9 171.4 688 171.9 701.2C172.4 714.5 172.8 729.9 173.2 742.5C173.6 755.1 174.2 767.3 174.6 776.9C175 786.5 175.4 790.9 175.8 800C176.2 809.1 176.6 821.1 177.2 831.6C177.8 842.1 178.8 853.7 179.6 863.2C180.4 872.7 180.8 881.9 181.9 888.5C183 895.1 184.7 902.2 185.9 902.7C187.1 903.2 188.1 898.3 189.1 891.7C190.1 885.1 191 871.9 192.2 863.2C193.4 854.5 195 846.6 196.2 839.5C197.4 832.4 198.3 827.1 199.3 820.5C200.3 813.9 201.1 807.3 202 800C202.9 792.7 203.8 784.6 204.9 776.9C206 769.1 207.2 760.4 208.3 753.5C209.4 746.6 210.5 740.4 211.7 735.6C212.8 730.8 214.2 726.8 215.2 724.6C216.2 722.4 216.9 722.1 217.9 722.6C218.9 723.1 220.1 724.8 221.4 727.4C222.7 730 224.1 733.6 225.5 738.4C226.9 743.2 228.2 749.8 229.6 756.2C231 762.6 232.3 770.9 233.7 776.9C235.1 782.9 236.8 788 237.9 792C239.1 796 238.9 798.1 240.6 801C242.3 803.9 245.9 809.2 248.3 809.5C250.7 809.8 253.1 805.4 255 802.5C256.9 799.6 258.2 795.6 259.9 792C261.6 788.4 263.6 784.2 265.4 781C267.2 777.8 269.1 774.7 270.9 772.7C272.7 770.8 274.6 769.9 276.4 769.3C278.2 768.7 280.1 768.9 281.9 769.3C283.7 769.6 285.3 770.1 287.4 771.4C289.4 772.7 291.9 775.1 294.2 776.9C296.5 778.7 298.8 781.1 301.1 782.4C303.4 783.7 305.7 784.2 308 784.8C310.3 785.4 312.4 786.1 314.9 786C317.4 785.9 320 785 323.2 784.1C326.4 783.2 330.8 781.5 334.2 780.7C337.6 779.9 340.7 779.5 343.9 779.3C347.1 779.1 350.1 779.1 353.5 779.3C356.9 779.5 360.4 779.9 364.5 780.3C368.6 780.6 373.6 781.2 378.2 781.4C382.8 781.6 387.4 781.6 392 781.6C396.6 781.6 398.8 781.5 405.7 781.4C412.6 781.3 424 781.1 433.2 781.1C442.4 781.1 451.5 781.2 460.7 781.4C469.9 781.6 479 782 488.2 782.3C497.4 782.6 506.7 782.9 515.7 783.4C524.7 783.9 533.9 784.2 542 785C550.1 785.8 557 786.9 564.5 788C572 789.1 579.5 790.2 587 791.7C594.5 793.2 602 795 609.5 797C617 799 624.5 801.2 632 803.7C639.5 806.2 647 809 654.5 812C662 815 669.5 818.1 677 821.7C684.5 825.3 692 829.5 699.5 833.7C707 838 714 842.5 722 847.2C730 852 743.2 859.7 747.5 862.2" fill="none" stroke="#0f7a16" stroke-width="2.5" stroke-linejoin="round" stroke-dasharray="7.4 3.6"/><path d="M110.8 958.7C111.9 958.7 115.4 958.7 117.5 958.6C119.6 958.5 121.7 959.1 123.5 958C125.3 956.9 127 955.7 128.2 951.7C129.4 947.8 129.9 941.1 130.6 934.3C131.3 927.4 131.7 922.5 132.2 910.6C132.7 898.8 133.2 876.4 133.7 863.2C134.2 850 134.9 842.1 135.3 831.6C135.8 821.1 135.8 828.6 136.4 800C137 771.4 138.1 705.8 138.9 660C139.7 614.2 140.7 556.7 141.3 525C141.9 493.3 141.7 494.2 142.5 470C143.3 445.8 144.9 380 146.2 380C147.4 380 149.2 445.8 150 470C150.8 494.2 150.5 493.3 151.2 525C151.9 556.7 153.4 614.2 154.1 660C154.8 705.8 154.8 766.1 155.5 800C156.2 833.9 157.3 846.1 158.2 863.2C159 880.3 159.8 892.7 160.6 902.7C161.4 912.7 162.3 918.4 163 923.3C163.7 928.2 164.1 932.3 164.9 932C165.7 931.7 166.7 927.9 167.7 921.7C168.7 915.5 169.8 904.5 170.9 894.8C172 885 172.9 873.7 174 863.2C175.1 852.7 176.1 842.1 177.2 831.6C178.2 821.1 179.2 812.6 180.3 800C181.4 787.4 182.5 768.1 183.6 756.2C184.7 744.3 185.9 737.6 187 728.7C188.1 719.8 189.1 709.5 190.4 702.6C191.7 695.7 193.1 687.7 194.6 687.5C196.1 687.3 198.2 694.3 199.4 701.2C200.7 708.1 201.1 718.4 202.1 728.7C203.1 739 204.5 751.2 205.6 763.1C206.7 775 207.8 787.3 208.9 800C210 812.7 210.7 826.3 212 839.5C213.3 852.7 215.1 867.1 216.7 879C218.3 890.9 219.9 901.9 221.5 910.6C223.1 919.3 224.6 926.1 226.2 931.2C227.8 936.4 229.5 939.4 230.9 941.5C232.3 943.6 233.1 944 234.4 944.1C235.7 944.2 237 943.8 238.8 942.2C240.6 940.6 242.8 938.5 245.2 934.3C247.6 930.1 250.2 924.6 253.1 917C256 909.4 259.4 898.2 262.5 888.5C265.6 878.8 269.1 868.5 272 858.5C274.9 848.5 277.6 838.1 279.9 828.4C282.2 818.6 284.3 809 286 800C287.7 791 288.3 783.2 290.1 774.1C291.9 765 294.7 754.1 297 745.2C299.3 736.3 301.6 727.6 303.9 720.5C306.2 713.4 308.4 707.4 310.7 702.6C313 697.8 315.5 694.1 317.6 691.6C319.7 689.1 321.1 687.8 323.2 687.6C325.3 687.4 327.8 688.5 330.1 690.6C332.4 692.7 334.7 696.3 337 700.2C339.3 704.1 341.6 709 343.9 714C346.2 719 348.4 725.2 350.7 730.5C353 735.8 355.3 741 357.6 745.6C359.9 750.2 362.2 754.1 364.5 758C366.8 761.9 369.1 765.9 371.4 769C373.7 772.1 375.9 774.5 378.2 776.6C380.5 778.7 382.8 780.2 385.1 781.4C387.4 782.6 389.7 783.2 392 783.8C394.3 784.4 396.1 784.9 398.9 785.2C401.6 785.5 405.1 785.6 408.5 785.5C411.9 785.4 415.4 785.1 419.5 784.8C423.6 784.4 428.6 783.8 433.2 783.4C437.8 783 442.4 782.7 447 782.1C451.6 781.5 456.1 780.7 460.7 780C465.3 779.3 469.9 778.4 474.5 777.9C479.1 777.4 483.6 777 488.2 776.8C492.8 776.5 496.8 776.4 502 776.4C507.2 776.4 512.8 776.6 519.5 776.7C526.2 776.8 534.5 776.8 542 777.2C549.5 777.6 557 778.2 564.5 779C572 779.8 579.5 780.6 587 782C594.5 783.4 602 785 609.5 787.2C617 789.5 624.5 792.4 632 795.5C639.5 798.6 647 802.1 654.5 806C662 809.9 669.5 814 677 818.7C684.5 823.5 692 829 699.5 834.5C707 840 714 845.7 722 851.7C730 857.7 743.2 867.4 747.5 870.5" fill="none" stroke="#e8101c" stroke-width="2.5" stroke-linejoin="round"/></g>
<rect x="111.2" y="525.3" width="636.8" height="434.7" fill="none" stroke="#2a2a2a" stroke-width="1.5"/>
<path d="M110.5 960v5.5M238 960v5.5M365.5 960v5.5M493.1 960v5.5M620.6 960v5.5M748.1 960v5.5" stroke="#2a2a2a" stroke-width="1.5" fill="none"/>
<g font-size="24.5" text-anchor="middle">
<text x="110.5" y="987.6">0.0</text>
<text x="238" y="987.6">0.1</text>
<text x="365.5" y="987.6">0.2</text>
<text x="493.1" y="987.6">0.3</text>
<text x="620.6" y="987.6">0.4</text>
<text x="748.1" y="987.6">0.5</text>
</g>
<text x="429.6" y="1016.9" font-size="25.4" text-anchor="middle">Normalized Frequency(Hz)</text>
<text transform="translate(97.8 742) rotate(-90)" font-size="25.5" text-anchor="middle">Normalized Amplitude</text>
</g>
<text x="11.5" y="795" font-size="49">(c)</text>
<g id="plot-d">
<clipPath id="clip-d"><rect x="921.4" y="523.3" width="654.8" height="447.4"/></clipPath>
<rect x="921.4" y="523.3" width="654.8" height="447.4" fill="#fff"/>
<rect x="940.7" y="523.3" width="26.2" height="447.4" fill="#ffb4c0" stroke="#a0505c" stroke-width="1.8"/>
<rect x="993.1" y="523.3" width="45.9" height="447.4" fill="#ffffe0" stroke="#4f9c8c" stroke-width="1.8"/>
<rect x="1104.5" y="523.3" width="59" height="447.4" fill="#dffefe" stroke="#3f979b" stroke-width="1.8"/>
<rect x="1366.6" y="523.3" width="45.9" height="447.4" fill="#d7bcd9" stroke="#8c3a94" stroke-width="1.8"/>
<g clip-path="url(#clip-d)"><path d="M921.5 885.2C922 885 925.3 884 926.3 883.2C927.3 882.5 930.8 879.2 931.8 877.7C932.8 876.2 935.8 870.7 936.6 868.7C937.4 866.7 939.4 860.5 940 857.7C940.6 855 942.2 845.2 942.8 841.2C943.3 837.2 945.1 823 945.5 817.9C945.9 812.8 946.6 801.8 946.9 790C947.1 778.2 947.6 717.8 948 700C948.4 682.2 949.7 617.8 950.4 612C951.1 606.2 954.5 633.2 955.1 642C955.7 650.8 955.7 684.2 956 700C956.3 715.8 957.8 787.2 958.1 800C958.4 812.8 958.9 822 959.3 827.5C959.7 833 961.5 850.5 962 855C962.5 859.5 964.1 869.7 964.8 872.9C965.5 876.1 967.9 884.4 968.9 886.6C969.9 888.8 973.3 893.7 974.4 894.9C975.5 896.1 978.8 898.2 979.9 898.3C981 898.4 984.3 897 985.4 896.2C986.5 895.5 989.8 892.4 990.9 890.8C992 889.1 995.4 882.6 996.4 879.7C997.4 876.8 999.8 866.4 1000.5 861.9C1001.2 857.4 1002.9 840.6 1003.3 834.4C1003.7 828.2 1004.3 808.6 1004.6 800C1004.9 791.4 1006.2 749.1 1006.7 748.1C1007.2 747.1 1009.3 782.8 1009.9 790C1010.5 797.2 1012.3 814.9 1012.9 820C1013.5 825.1 1015.1 837 1015.6 841.2C1016.1 845.4 1017.7 857.8 1018.4 861.9C1019.1 866 1021.5 879.1 1022.5 882.5C1023.5 885.9 1026.9 894.4 1028 896.2C1029.1 898.1 1032.4 900.5 1033.5 901C1034.6 901.5 1037.9 901.7 1039 901.5C1040.1 901.3 1043.4 900.1 1044.5 899C1045.6 897.9 1049 893 1050 890.8C1051 888.6 1054 880.2 1054.8 877C1055.6 873.8 1057.4 863.2 1058 859.1C1058.6 855 1060.2 840.1 1060.7 836C1061.2 831.9 1062.3 820.5 1062.8 818C1063.3 815.5 1065.2 811 1065.8 811C1066.4 811 1068.5 815.5 1069 818C1069.5 820.5 1070.4 831.8 1070.8 836C1071.2 840.2 1072.7 855.9 1073.4 860.5C1074.1 865.1 1076.7 879.1 1077.5 882.5C1078.3 885.9 1080.6 893 1081.6 894.9C1082.6 896.8 1086 900.2 1087.1 901C1088.2 901.8 1091.5 902.8 1092.6 902.9C1093.7 903 1097 902.3 1098.1 901.8C1099.2 901.3 1102.5 899 1103.6 897.6C1104.7 896.2 1108.1 890.2 1109.1 888C1110.1 885.8 1112.5 878.9 1113.3 875.6C1114.1 872.3 1116.6 858.7 1117.4 855C1118.2 851.3 1120.2 839.3 1121 838.3C1121.8 837.3 1124.3 842.5 1125 845C1125.7 847.5 1127.6 859.2 1128.3 862.9C1129 866.6 1131.4 878.8 1132.4 882.1C1133.4 885.4 1136.7 893.9 1137.9 895.9C1139.1 897.9 1143.4 901.4 1144.8 902.1C1146.2 902.9 1150.2 903.5 1151.6 903.4C1153 903.3 1157.3 901.7 1158.5 900.7C1159.7 899.7 1162.9 895.2 1164 893.1C1165.1 891 1168.5 882.3 1169.5 879.4C1170.5 876.5 1173.5 866.4 1174.3 864.2C1175.1 862 1177 857.7 1177.8 857.4C1178.6 857.1 1181.1 859.7 1181.9 861.5C1182.7 863.3 1185 872.3 1186 875.2C1187 878.1 1190.4 888.1 1191.5 890.4C1192.6 892.7 1195.9 897.4 1197 898.6C1198.1 899.8 1201.3 902.2 1202.5 902.7C1203.7 903.2 1208 903.9 1209.4 903.8C1210.8 903.7 1215.1 902.2 1216.3 901.4C1217.5 900.6 1220.7 897.5 1221.8 895.9C1222.9 894.2 1226.3 887 1227.3 884.9C1228.3 882.8 1230.7 876.1 1231.4 874.6C1232.2 873.1 1234 869.8 1234.8 869.7C1235.6 869.6 1238.7 872.5 1239.6 873.9C1240.5 875.3 1242.8 881.3 1243.8 883.5C1244.8 885.7 1248.2 894.1 1249.3 895.9C1250.4 897.7 1253.7 900.6 1254.8 901.4C1255.9 902.2 1259.2 903.8 1260.3 904.1C1261.4 904.4 1264.7 904.9 1265.8 904.8C1266.9 904.7 1270.1 903.6 1271.3 902.7C1272.5 901.8 1276.9 897.4 1278.1 895.9C1279.3 894.4 1282.6 889.1 1283.6 887.6C1284.6 886.1 1287.6 882.2 1288.4 881.4C1289.2 880.6 1291.1 879.4 1291.9 879.4C1292.7 879.4 1295 880.4 1296 881.4C1297 882.4 1300.6 887.5 1301.5 889C1302.4 890.5 1303.7 895.1 1304.7 896.6C1305.7 898.1 1310.1 902.7 1311.7 903.6C1313.3 904.5 1318.7 905.9 1320.4 905.9C1322.2 905.9 1327.5 904.6 1329.2 903.6C1331 902.6 1336.3 897.4 1337.9 895.8C1339.5 894.2 1343.8 888.9 1344.9 887.9C1346 886.9 1348.3 885.9 1349.3 886.1C1350.4 886.3 1354.1 888.4 1355.4 889.6C1356.7 890.8 1361 896.9 1362.4 898.4C1363.8 899.9 1367.8 903.6 1369.4 904.5C1371 905.4 1376.5 907 1378.2 907.1C1380 907.2 1385.2 906.2 1386.9 905.4C1388.7 904.6 1394.1 900.5 1395.7 899.3C1397.3 898.1 1401.6 893.8 1402.7 893.1C1403.8 892.4 1406 891.6 1407 891.9C1408 892.2 1411.7 894.7 1413.2 895.8C1414.7 896.9 1420.2 901.7 1421.9 902.8C1423.7 903.9 1429 906.2 1430.7 906.6C1432.5 907 1437.7 907.4 1439.4 907.1C1441.2 906.8 1446.5 904.5 1448.2 903.6C1450 902.7 1455.4 899.1 1456.9 898.4C1458.4 897.7 1461.8 896.6 1463 896.6C1464.2 896.6 1467.7 897.6 1469.2 898.4C1470.7 899.2 1476.2 903.5 1477.9 904.5C1479.7 905.5 1485 908 1486.7 908.4C1488.5 908.8 1493.7 909.1 1495.4 908.9C1497.2 908.7 1502.5 906.9 1504.2 906.3C1506 905.6 1511.2 903 1512.9 902.4C1514.6 901.8 1519.2 900.7 1520.8 900.7C1522.4 900.7 1527 902.1 1528.7 902.8C1530.4 903.5 1535.5 906.9 1537.4 908C1539.3 909.1 1545.8 912.7 1547.9 913.6C1550 914.5 1556.1 916.2 1558.4 916.8C1560.7 917.4 1569.5 919.1 1570.7 919.4" fill="none" stroke="#0f7a16" stroke-width="2.5" stroke-linejoin="round" stroke-dasharray="7.4 3.6"/><path d="M921.5 885.2C922 885 925.3 884 926.3 883.2C927.3 882.5 930.8 879.2 931.8 877.7C932.8 876.2 935.8 870.7 936.6 868.7C937.4 866.7 939.4 860.5 940 857.7C940.6 855 942.2 845.2 942.8 841.2C943.3 837.2 945.1 823 945.5 817.9C945.9 812.8 946.6 801.8 946.9 790C947.1 778.2 947.7 718.6 948 700C948.3 681.4 949.6 610.6 950.3 604.4C951 598.2 954.5 628.4 955.1 638C955.7 647.6 955.7 683.8 956 700C956.3 716.2 957.8 787.2 958.1 800C958.4 812.8 958.9 822 959.3 827.5C959.7 833 961.5 850.5 962 855C962.5 859.5 964.1 869.7 964.8 872.9C965.5 876.1 967.9 884.4 968.9 886.6C969.9 888.8 973.3 893.7 974.4 894.9C975.5 896.1 978.9 897.9 979.9 898.3C980.9 898.7 983 898.9 984 898.7C985 898.5 988.4 897.1 989.5 896.2C990.6 895.3 994 891 995 889.4C996 887.8 998.4 882.2 999.2 879.7C1000 877.2 1002 868.5 1002.6 864.6C1003.2 860.8 1004.8 847.7 1005.3 841.2C1005.8 834.7 1007.5 812.3 1008.1 800C1008.7 787.7 1010.9 719.6 1011.5 718.6C1012.1 717.6 1013.8 778.4 1014.3 790C1014.8 801.6 1016.5 827.9 1017 834.4C1017.5 840.9 1019.1 850.9 1019.8 855C1020.5 859.1 1022.9 872.2 1023.9 875.6C1024.9 879 1028.3 887.4 1029.4 889.4C1030.5 891.4 1033.9 894.9 1034.9 895.6C1035.9 896.4 1038 897 1039 896.9C1040 896.8 1043.4 895.8 1044.5 894.9C1045.6 894 1049 889.8 1050 888C1051 886.2 1053.3 879.9 1054.1 877C1054.9 874.1 1057 863.4 1057.6 859.1C1058.2 854.8 1059.8 839.2 1060.3 834.4C1060.8 829.6 1062 814.3 1062.4 811C1062.8 807.7 1063.4 801.2 1064 801.2C1064.6 801.2 1067.9 807.7 1068.6 811C1069.3 814.3 1070.1 829.7 1070.6 834.4C1071.1 839.1 1072.7 853.4 1073.4 857.7C1074.1 862 1076.7 874 1077.5 877C1078.3 880 1080.6 886.4 1081.6 888C1082.6 889.6 1086 892.8 1087.1 893.5C1088.2 894.2 1091.5 895 1092.6 894.9C1093.7 894.8 1097 893.6 1098.1 892.8C1099.2 892 1102.5 888.3 1103.6 886.6C1104.7 884.9 1108.1 878.1 1109.1 875.6C1110.1 873.1 1112.5 865.6 1113.3 861.9C1114.1 858.2 1116.7 842.9 1117.4 838.5C1118.1 834.1 1119.9 819.9 1120.6 818C1121.4 816.1 1124.2 817.8 1124.9 819.2C1125.6 820.6 1127.3 829.8 1127.8 831.8C1128.3 833.8 1129.7 838.3 1130.3 839.5C1130.9 840.7 1133 843.9 1133.8 843.8C1134.6 843.7 1137.1 840.9 1137.9 838.8C1138.7 836.7 1141.1 825.8 1142 823C1142.9 820.2 1145.9 810.7 1146.8 810.6C1147.7 810.5 1150.2 819.6 1151 821.6C1151.8 823.6 1154.2 830 1155.1 830.6C1156 831.2 1158.9 827.4 1159.9 827.4C1160.9 827.4 1163.9 828.8 1164.7 830.6C1165.5 832.4 1166.9 841.6 1167.5 845C1168.1 848.4 1170.2 860.8 1170.9 864.2C1171.6 867.6 1173.6 876.8 1174.3 879.4C1175 882 1177 888.3 1177.8 890.4C1178.6 892.5 1180.9 898.1 1181.9 900C1182.9 901.9 1186.2 907.2 1187.4 908.9C1188.6 910.5 1192.8 915.2 1194.3 916.5C1195.8 917.8 1200.7 921 1202.5 922C1204.3 923 1210 925.4 1212.1 926.1C1214.2 926.8 1220.6 928.2 1223.1 928.6C1225.6 929 1234.4 929.6 1236.9 929.6C1239.4 929.6 1245.8 928.6 1247.9 928.2C1250 927.8 1255.7 926.1 1257.5 925.4C1259.3 924.7 1264.3 922.3 1265.8 921.3C1267.3 920.3 1271.4 917 1272.6 915.8C1273.8 914.6 1277 910.5 1278.1 908.9C1279.2 907.3 1282.6 901.5 1283.6 900C1284.6 898.5 1287 894.7 1287.8 893.8C1288.6 892.9 1291.1 891.1 1291.9 891.1C1292.7 891.1 1295.2 892.9 1296 893.8C1296.8 894.7 1299.2 898.7 1300.1 900C1301 901.3 1303.5 905.5 1304.7 907.1C1305.9 908.7 1310.1 914.5 1311.7 915.9C1313.3 917.2 1318.5 920 1320.4 920.6C1322.3 921.2 1328.8 922 1330.9 922C1333 922 1339.5 920.9 1341.4 920.3C1343.3 919.7 1348.5 917 1350.2 915.9C1352 914.8 1357.3 910.4 1358.9 908.9C1360.5 907.4 1364.5 903 1365.9 901C1367.3 899 1371.5 891.2 1372.9 888.8C1374.3 886.3 1378.5 878.3 1379.9 876.5C1381.3 874.7 1385.5 870.5 1386.9 870.4C1388.3 870.3 1392.5 873.9 1393.9 875.6C1395.3 877.4 1399.5 885.5 1400.9 887.9C1402.3 890.3 1406.5 897.4 1407.9 899.3C1409.3 901.2 1413.3 905.8 1414.9 907.1C1416.5 908.4 1421.8 911.6 1423.7 912.4C1425.6 913.2 1432.1 914.7 1434.2 914.7C1436.3 914.7 1442.6 913.2 1444.7 912.4C1446.8 911.6 1453.5 907.2 1455.2 906.3C1457 905.4 1460.8 903.5 1462.2 903.6C1463.6 903.7 1467.6 906 1469.2 907.1C1470.8 908.2 1476 913.4 1477.9 915C1479.8 916.6 1486.1 921.5 1488.4 922.9C1490.7 924.3 1498.1 928 1500.7 929C1503.3 930 1511.7 932.7 1514.7 933.4C1517.7 934.1 1527.1 935.6 1530.4 936C1533.7 936.4 1543.8 937.2 1547.9 937.4C1552 937.6 1569.1 938.2 1571.5 938.3" fill="none" stroke="#e8101c" stroke-width="2.5" stroke-linejoin="round"/></g>
<rect x="921.4" y="523.3" width="654.8" height="447.4" fill="none" stroke="#2a2a2a" stroke-width="1.5"/>
<path d="M921 970.7v5.5M1052.1 970.7v5.5M1183.1 970.7v5.5M1314.2 970.7v5.5M1445.2 970.7v5.5M1576.3 970.7v5.5" stroke="#2a2a2a" stroke-width="1.5" fill="none"/>
<g font-size="25" text-anchor="middle">
<text x="921" y="998.7">0.0</text>
<text x="1052.1" y="998.7">0.1</text>
<text x="1183.1" y="998.7">0.2</text>
<text x="1314.2" y="998.7">0.3</text>
<text x="1445.2" y="998.7">0.4</text>
<text x="1576.3" y="998.7">0.5</text>
</g>
<text x="1248.8" y="1029.8" font-size="26.1" text-anchor="middle">Normalized Frequency(Hz)</text>
<text transform="translate(907.7 746) rotate(-90)" font-size="25.8" text-anchor="middle">Normalized Amplitude</text>
</g>
<text x="786" y="795" font-size="49">(d)</text>
</svg></body></html>
